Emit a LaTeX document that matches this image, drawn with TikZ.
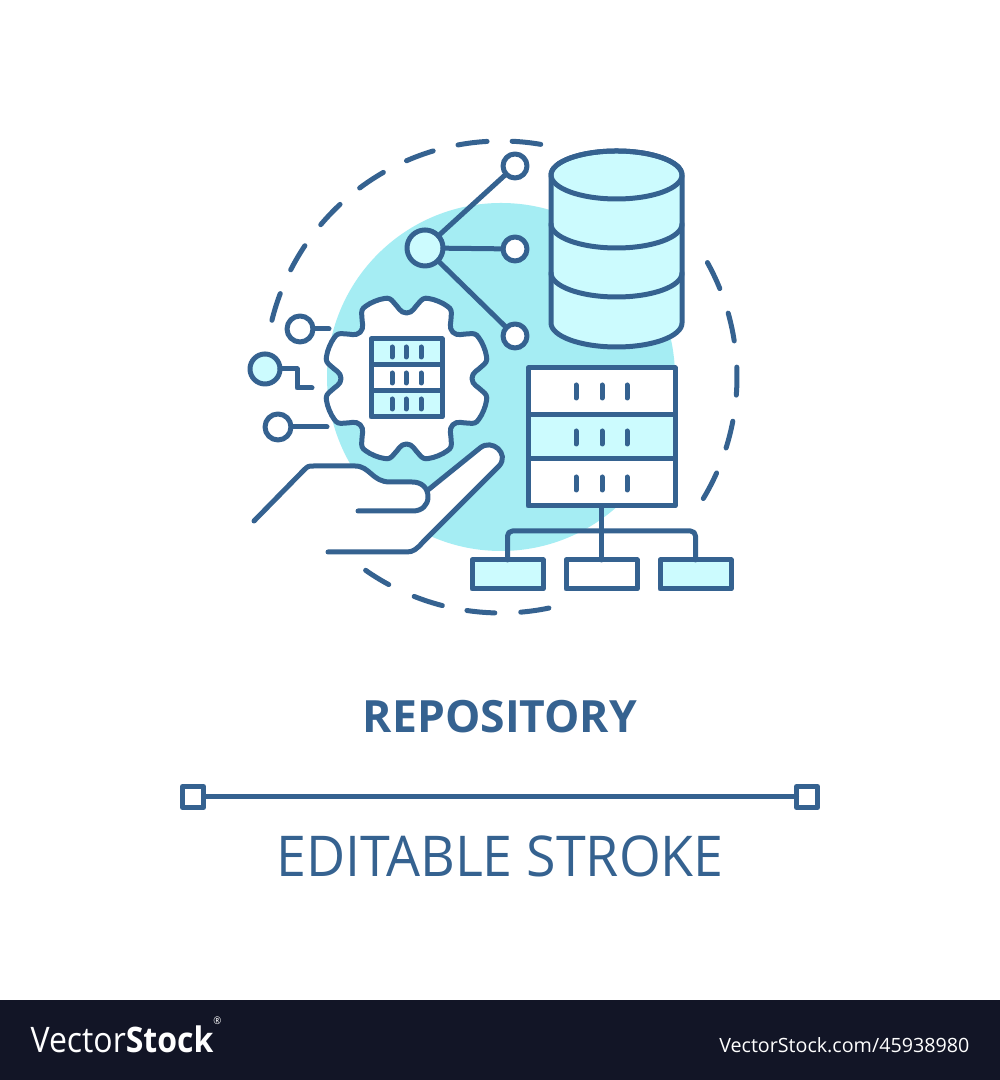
\documentclass[tikz,border=0pt]{standalone}
\usepackage{fontspec}
\setmainfont{Open Sans}
\definecolor{inkblue}{HTML}{356290}
\definecolor{discblue}{HTML}{A5EDF3}
\definecolor{paleblue}{HTML}{CCFBFE}
\definecolor{barnavy}{HTML}{121526}
\tikzset{
    stroke/.style={draw=inkblue,line width=0.05cm,line cap=round,line join=round},
    ball/.style={circle,stroke,fill=white,inner sep=0pt,outer sep=0pt,minimum size=0.26cm},
    rowbox/.style={rectangle,stroke,fill=white,inner sep=0pt,outer sep=0pt},
    title/.style={text=inkblue,inner sep=0pt}
}
\begin{document}
\begin{tikzpicture}
        \useasboundingbox (0,0) rectangle (10,10.8);
        \fill[white] (0,0) rectangle (10,10.8);
        \fill[barnavy] (0,0) rectangle (10,0.8);
        \node[text=white,inner sep=0pt,anchor=base west,xscale=0.91,transform shape,font=\fontsize{10pt}{10pt}\selectfont] (brand) at (0.30,0.27) {Vector\textbf{Stock}\raisebox{1.5ex}{\fontsize{3pt}{3pt}\selectfont ®}};
        \node[text=white,inner sep=0pt,anchor=base east,font=\fontsize{5.6pt}{5.6pt}\selectfont] (code) at (9.70,0.27) {VectorStock.com/45938980};

        % disc and dashed ring
        \coordinate (mid) at (5.01,7.03);
        \fill[discblue] (mid) circle (1.74);
        \foreach \a/\b in {166.1/159.3,153/146.2,139.8/133,126.8/119.9,113.6/106.7,100.5/93.4,87.3/80.3,
                29/22,15.7/8.8,2.4/-4.4,-10.8/-17.5,-24/-31,
                -78.3/-85.2,-91.5/-98.3,-104.4/-111.6,-118.4/-125}
            \draw[stroke] (mid) ++(\a:2.36) arc[start angle=\a,end angle=\b,radius=2.36];

        % network
        \node[ball,fill=paleblue,minimum size=0.36cm] (hub) at (4.25,8.32) {};
        \node[ball,minimum size=0.24cm] (leafa) at (5.15,9.14) {};
        \node[ball,minimum size=0.24cm] (leafb) at (5.15,8.31) {};
        \node[ball,minimum size=0.24cm] (leafc) at (5.15,7.44) {};
        \draw[stroke] (hub) -- (leafa);
        \draw[stroke] (hub) -- (leafb);
        \draw[stroke] (hub) -- (leafc);

        % database
        \draw[stroke,fill=paleblue] (5.51,9.05) -- (5.51,7.57) arc[start angle=180,end angle=360,x radius=0.655,y radius=0.24]
            -- (6.82,9.05) arc[start angle=0,end angle=180,x radius=0.655,y radius=0.24] -- cycle;
        \draw[stroke] (6.165,9.05) ellipse[x radius=0.655,y radius=0.24];
        \foreach \y in {8.56,8.07}
            \draw[stroke] (5.51,\y) arc[start angle=180,end angle=360,x radius=0.655,y radius=0.24];

        % gear with small server
        \draw[stroke,fill=white,shift={(4.065,7.015)}] (0:0.655)
            \foreach \a in {22.5,67.5,...,337.5} {
                .. controls ({\a-17}:0.658) and ({\a-16}:0.72) .. ({\a-13}:0.77)
                .. controls ({\a-11.5}:0.81) and ({\a-10}:0.83) .. ({\a-7}:0.83)
                .. controls ({\a-3}:0.84) and ({\a+3}:0.84) .. ({\a+7}:0.83)
                .. controls ({\a+10}:0.83) and ({\a+11.5}:0.81) .. ({\a+13}:0.77)
                .. controls ({\a+16}:0.72) and ({\a+17}:0.658) .. ({\a+22.5}:0.655)
            } -- cycle;
        \node[rowbox,fill=paleblue,minimum width=0.71cm,minimum height=0.26cm] (cogtop) at (4.065,7.28) {};
        \node[rowbox,minimum width=0.71cm,minimum height=0.26cm] (cogmid) at (4.065,7.02) {};
        \node[rowbox,fill=paleblue,minimum width=0.71cm,minimum height=0.26cm] (cogbot) at (4.065,6.76) {};
        \foreach \x in {3.92,4.06,4.21}
            \foreach \y in {7.23,6.97,6.71}
                \draw[stroke] (\x,\y) -- +(0,0.10);

        % side balls
        \node[ball] (sidea) at (3.00,7.51) {};
        \coordinate (sideaend) at (3.29,7.51);
        \draw[stroke] (sidea) -- (sideaend);
        \node[ball,fill=paleblue,minimum size=0.30cm] (sideb) at (2.65,7.11) {};
        \coordinate (sidebend) at (3.12,6.92);
        \draw[stroke] (sideb) -- (2.97,7.11) -- (2.97,6.92) -- (sidebend);
        \node[ball] (sidec) at (2.78,6.53) {};
        \coordinate (sidecend) at (3.27,6.53);
        \draw[stroke] (sidec) -- (sidecend);

        % hand
        \fill[white] (2.54,5.59) -- (3.03,6.09) .. controls (3.08,6.14) .. (3.14,6.14) -- (3.55,6.14)
            .. controls (3.70,6.14) and (3.72,5.98) .. (3.90,5.98) -- (4.12,5.98) -- (4.28,5.90) -- (4.80,6.32)
            .. controls (4.92,6.42) and (5.10,6.26) .. (4.99,6.14) -- (4.23,5.38)
            .. controls (4.17,5.31) and (4.13,5.28) .. (4.07,5.28) -- (3.28,5.28) -- cycle;
        \draw[stroke] (2.54,5.59) -- (3.03,6.09) .. controls (3.08,6.14) .. (3.14,6.14) -- (3.55,6.14)
            .. controls (3.70,6.14) and (3.72,5.98) .. (3.90,5.98) -- (4.12,5.98)
            .. controls (4.22,5.98) and (4.28,5.92) .. (4.28,5.83)
            .. controls (4.28,5.75) and (4.22,5.69) .. (4.13,5.69) -- (3.58,5.69);
        \draw[stroke] (4.28,5.90) -- (4.80,6.32)
            .. controls (4.92,6.42) and (5.10,6.26) .. (4.99,6.14) -- (4.23,5.38)
            .. controls (4.17,5.31) and (4.13,5.28) .. (4.07,5.28) -- (3.28,5.28);

        % big server
        \node[rowbox,minimum width=1.47cm,minimum height=0.47cm] (racka) at (6.015,6.885) {};
        \node[rowbox,fill=paleblue,minimum width=1.47cm,minimum height=0.44cm] (rackb) at (6.015,6.43) {};
        \node[rowbox,minimum width=1.47cm,minimum height=0.47cm] (rackc) at (6.015,5.975) {};
        \foreach \x in {5.76,6.02,6.27}
            \foreach \y in {6.82,6.36,5.90}
                \draw[stroke] (\x,\y) -- +(0,0.13);

        % tree under server
        \node[rowbox,fill=paleblue,minimum width=0.71cm,minimum height=0.29cm] (boxa) at (5.075,5.055) {};
        \node[rowbox,minimum width=0.71cm,minimum height=0.29cm] (boxb) at (6.015,5.055) {};
        \node[rowbox,fill=paleblue,minimum width=0.71cm,minimum height=0.29cm] (boxc) at (6.955,5.055) {};
        \draw[stroke] (rackc) -- (boxb);
        \draw[stroke,rounded corners=0.05cm] (boxa.north) -- (5.075,5.49) -- (6.955,5.49) -- (boxc.north);

        % captions
        \node[title,font=\fontsize{12.65pt}{12.65pt}\selectfont\bfseries] (name) at (5.00,3.63) {REPOSITORY};
        \node[rowbox,fill=white,minimum size=0.21cm] (grip) at (1.93,2.83) {};
        \node[rowbox,fill=white,minimum size=0.21cm] (gripb) at (8.07,2.83) {};
        \draw[stroke] (grip) -- (gripb);
        \node[title,xscale=0.955,transform shape,font=\fontsize{16pt}{16pt}\selectfont] (tag) at (5.00,2.24) {EDITABLE STROKE};
\end{tikzpicture}
\end{document}
